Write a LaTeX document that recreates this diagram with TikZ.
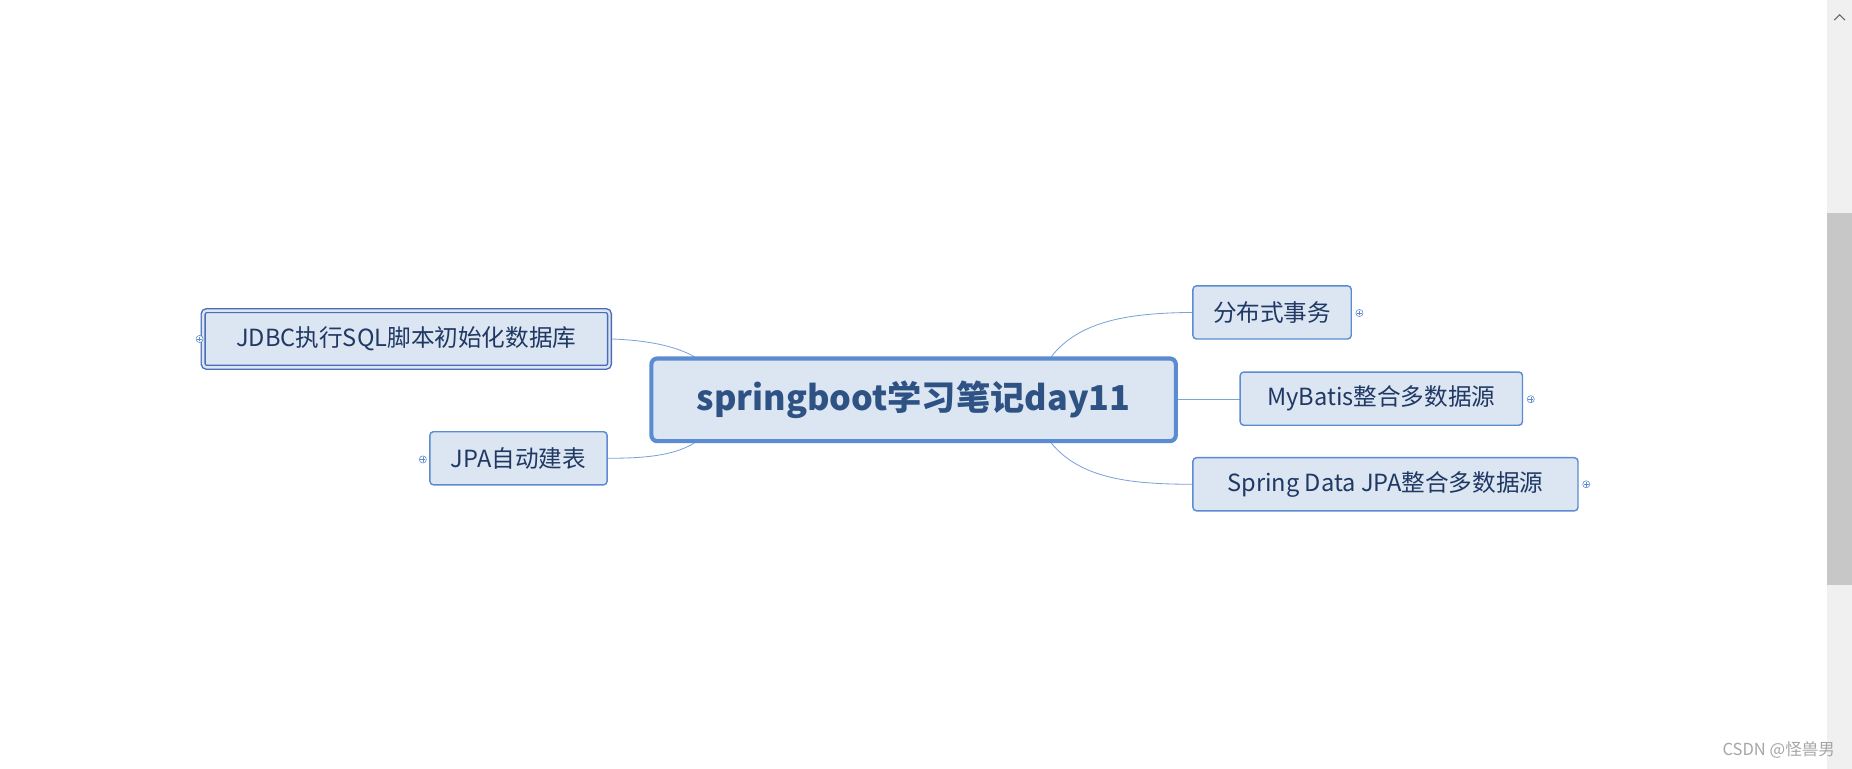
\documentclass[tikz,border=0pt]{standalone}
\usepackage{fontspec}
\setmainfont{Noto Sans CJK SC}
\definecolor{bfill}{HTML}{DCE6F2}
\definecolor{bline}{HTML}{5B8BD0}
\definecolor{dline}{HTML}{4A6DB8}
\definecolor{txt}{HTML}{1F3864}
\definecolor{ctxt}{HTML}{2E5283}
\tikzset{
  child/.style={draw=bline,line width=1.2pt,fill=bfill,rounded corners=3pt,minimum height=45pt,inner xsep=11pt,text=txt,font=\fontsize{20}{22}\selectfont},
  conn/.style={draw=bline!80,line width=0.7pt},
  plus/.style={circle,draw=bline,line width=0.5pt,fill=white,minimum size=6pt,inner sep=0pt,
    path picture={\draw[bline,line width=0.4pt] ([xshift=-2pt]path picture bounding box.center)--([xshift=2pt]path picture bounding box.center) ([yshift=-2pt]path picture bounding box.center)--([yshift=2pt]path picture bounding box.center);}}
}
\begin{document}
\begin{tikzpicture}[x=1pt,y=-1pt]
\useasboundingbox (0,0) rectangle (1568,651);
\fill[white] (0,0) rectangle (1568,651);
% scrollbar
\fill[black!6] (1547,0) rectangle (1568,651);
\fill[black!22] (1547,180) rectangle (1568,495);
\draw[black!60,line width=0.8pt] (1553,17)--(1557.5,12.5)--(1562,17);
% connectors
\coordinate (ctl) at (588,302);
\coordinate (cbl) at (588,375);
\coordinate (ctr) at (890,302);
\coordinate (cbr) at (890,375);
\coordinate (jdbce) at (518,287);
\coordinate (jpae) at (514,388);
\coordinate (fbw) at (1010,264.5);
\coordinate (sdw) at (1010,410);
\draw[conn] (ctl) .. controls (570,292) and (545,288) .. (jdbce);
\draw[conn] (cbl) .. controls (570,386) and (545,388) .. (jpae);
\draw[conn] (ctr) .. controls (915,270) and (960,265) .. (fbw);
\draw[conn] (cbr) .. controls (915,406) and (960,410) .. (sdw);
\draw[conn] (997,338) -- (1050,338);
% nodes
\node[draw=bline,line width=3.5pt,fill=bfill,rounded corners=5pt,minimum width=444pt,minimum height=70pt,text=ctxt,font=\fontsize{29}{32}\selectfont\bfseries] (c) at (773.5,338.5) {springboot学习笔记day11};
\node[child,draw=dline,double=bfill,double distance=2pt,line width=1.2pt,minimum width=344pt,minimum height=48pt] (jdbc) at (344,287) {JDBC执行SQL脚本初始化数据库};
\node[child,minimum width=150pt] (jpa) at (439,388) {JPA自动建表};
\node[child,minimum width=134pt] (fb) at (1077,264.5) {分布式事务};
\node[child,minimum width=239pt] (mb) at (1169.5,337.5) {MyBatis整合多数据源};
\node[child,minimum width=326pt] (sd) at (1173,410) {Spring Data JPA整合多数据源};
% plus markers
\node[plus] (p1) at (169,287) {};
\node[plus] (p2) at (358,389) {};
\node[plus] (p3) at (1151,265) {};
\node[plus] (p4) at (1296,338) {};
\node[plus] (p5) at (1343,410) {};
\node[text=black!35,font=\fontsize{14}{16}\selectfont,anchor=east] (wm) at (1557,635) {CSDN @怪兽男};
\end{tikzpicture}
\end{document}
